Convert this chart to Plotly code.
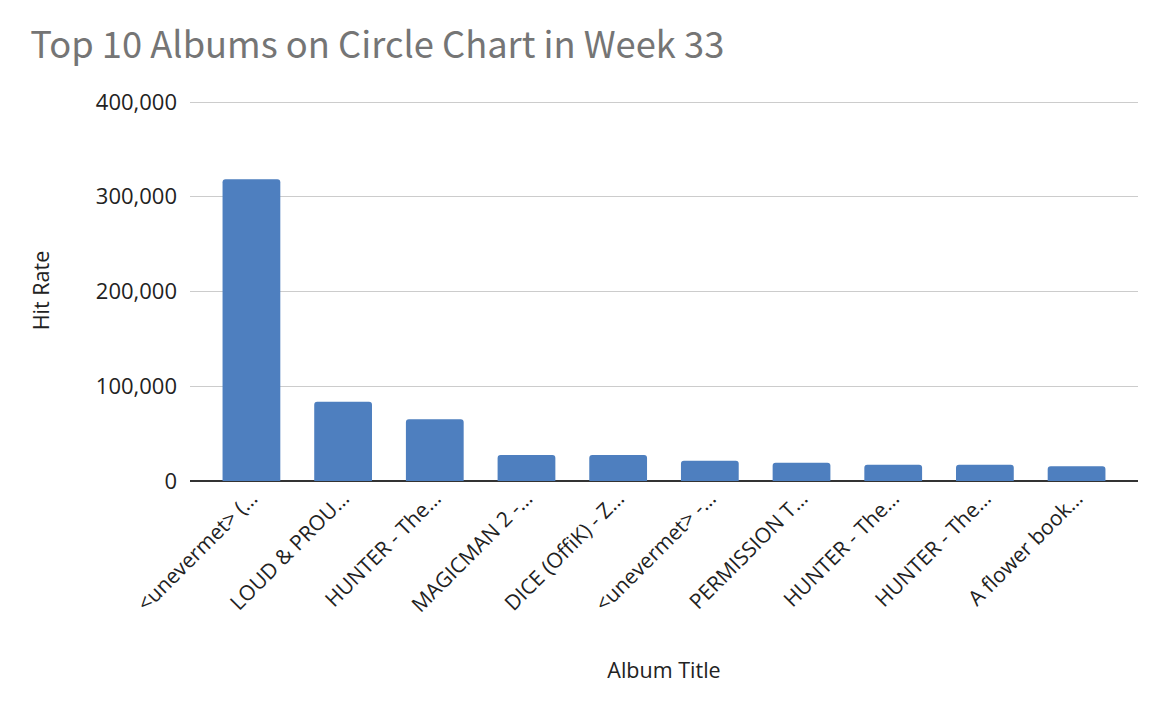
import plotly.graph_objects as go

labels = ["<unevermet> (…", "LOUD & PROU…", "HUNTER - The…", "MAGICMAN 2 -…",
          "DICE (OffiK) - Z…", "<unevermet> -…", "PERMISSION T…", "HUNTER - The…",
          "HUNTER - The…", "A flower book…"]
hit_rate = [318500, 83700, 65100, 27400, 27400, 21400, 19300, 17200, 17200, 15500]
positions = list(range(len(labels)))
y_ticks = [0, 100000, 200000, 300000, 400000]
y_tick_text = ["0", "100,000", "200,000", "300,000", "400,000"]

fig = go.Figure(go.Bar(
    x=positions, y=hit_rate,
    marker=dict(color="#4e7fbf", cornerradius=3, line=dict(width=0)),
    width=0.63,
))

fig.update_layout(
    width=1160, height=711,
    margin=dict(l=190, r=22, t=100, b=230, autoexpand=False),
    paper_bgcolor="white", plot_bgcolor="white",
    title=dict(text="Top 10 Albums on Circle Chart in Week 33",
               x=0.026, xanchor="left", y=0.936, yanchor="middle",
               font=dict(family="Noto Sans CJK KR, Noto Sans", size=36.3, color="#757575")),
    showlegend=False,
    font=dict(family="Open Sans", color="#222222"),
)
fig.update_xaxes(
    range=[-0.67, 9.67], tickvals=positions, ticktext=labels, tickangle=-45,
    tickfont=dict(size=21, family="Open Sans", color="#222222"),
    showgrid=False, showline=False, ticks="",
    title=dict(text="Album Title", font=dict(size=21.5, family="Open Sans", color="#222222"), standoff=46),
)
fig.update_yaxes(
    range=[0, 400000 * 381 / 379], tickvals=y_ticks, ticktext=y_tick_text,
    tickfont=dict(size=22, family="Open Sans", color="#222222"),
    showgrid=True, gridcolor="#cccccc", gridwidth=1,
    zeroline=True, zerolinecolor="#333333", zerolinewidth=2,
    ticks="", ticklabelstandoff=12,
    title=dict(text="Hit Rate", font=dict(size=21.5, family="Open Sans", color="#222222"), standoff=40),
)

fig.write_html("out.html")
